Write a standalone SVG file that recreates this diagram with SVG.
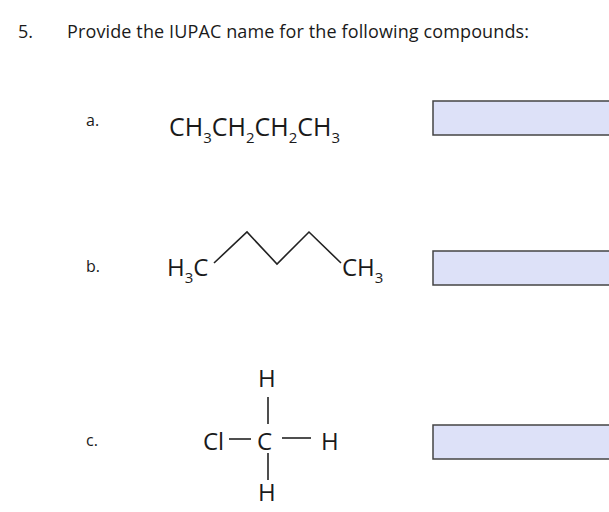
<svg xmlns="http://www.w3.org/2000/svg" width="609" height="512" viewBox="0 0 609 512">
<style>
text{font-family:"Open Sans","Liberation Sans",sans-serif;fill:#1a1a1a}
.t{font-size:18px}.l{font-size:16px}.m{font-size:24px}.s{font-size:15px}
.b{stroke:#222;stroke-width:1.6;fill:none}
.box{fill:#dde1f8;stroke:#444;stroke-width:1.5}
</style>
<rect width="609" height="512" fill="#fff"/>
<g id="title"><text class="t" x="18" y="38">5.</text><text class="t" x="67" y="38" textLength="462">Provide the IUPAC name for the following compounds:</text></g>
<g id="a"><text class="l" x="86" y="126">a.</text>
<text class="m" x="169" y="136" style="font-size:25px">CH<tspan class="s" dy="7">3</tspan><tspan dy="-7">CH</tspan><tspan class="s" dy="7">2</tspan><tspan dy="-7">CH</tspan><tspan class="s" dy="7">2</tspan><tspan dy="-7">CH</tspan><tspan class="s" dy="7">3</tspan></text>
<rect class="box" x="433" y="101" width="190" height="34"/></g>
<g id="b"><text class="l" x="86" y="272">b.</text>
<text class="m" x="167" y="276">H<tspan class="s" dy="7">3</tspan><tspan dy="-7">C</tspan></text>
<text class="m" x="342" y="276">CH<tspan class="s" dy="7">3</tspan></text>
<rect class="box" x="433" y="251" width="190" height="34"/></g>
<g id="c"><text class="l" x="86" y="446">c.</text>
<text class="m" x="203" y="450">Cl</text><text class="m" x="257" y="450">C</text><text class="m" x="321" y="450">H</text>
<text class="m" x="258" y="387">H</text><text class="m" x="258" y="501">H</text>
<rect class="box" x="433" y="425" width="190" height="34"/></g>
<g id="connectors">
<polyline class="b" points="214,263 247,232 277,264 309,232 341,263"/>
<line class="b" x1="229" y1="439" x2="251" y2="439"/>
<line class="b" x1="282" y1="438" x2="311" y2="438"/>
<line class="b" x1="268" y1="397" x2="268" y2="424"/>
<line class="b" x1="268" y1="453" x2="268" y2="480"/>
</g>
</svg>
